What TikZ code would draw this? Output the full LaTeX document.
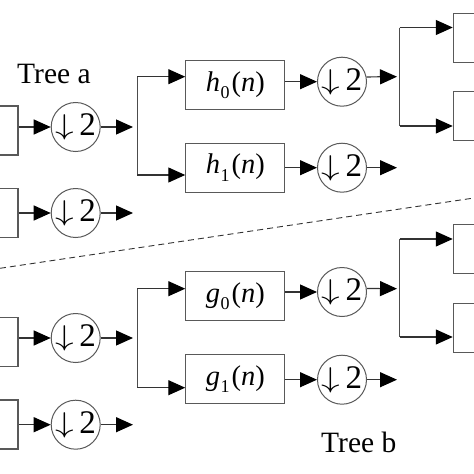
\documentclass[tikz,border=0pt]{standalone}
\usepackage{fontspec}
\setmainfont{Liberation Serif}
\usetikzlibrary{arrows.meta}
\newcommand{\flt}[2]{\textit{#1}\hspace{0.5pt}\raisebox{-0.26em}{\fontsize{18}{18}\selectfont #2}\hspace{2pt}(\textit{n})}
\newcommand{\dsym}{\raisebox{0.05em}{\scalebox{1.5}[1.15]{$\downarrow$}}\hspace{5pt}2}
\begin{document}
\begin{tikzpicture}[x=1pt,y=-1pt,
  box/.style={draw=black!65, line width=1.1pt, minimum width=99pt, minimum height=49pt, inner sep=0pt, font=\fontsize{28.5}{30}\selectfont},
  sbox/.style={draw=black!65, line width=1.1pt, minimum width=58pt, minimum height=49pt, inner sep=0pt},
  dn/.style={circle, draw=black!65, line width=1pt, minimum size=49pt, inner sep=0pt, font=\fontsize{33}{35}\selectfont},
  arr/.style={draw=black!80, line width=1.2pt, -{Triangle[length=17pt,width=15pt,color=black]}},
  ln/.style={draw=black!70, line width=1.2pt},
  lbl/.style={anchor=base west, inner sep=0pt, font=\fontsize{29.5}{31}\selectfont}]
\useasboundingbox (0,0) rectangle (474,474);
\clip (0,0) rectangle (474,474);
% left boxes (cut off)
\node[sbox] (L1) at (-11,130.5) {};
\node[sbox] (L2) at (-11,213) {};
\node[sbox] (L3) at (-11,342) {};
\node[sbox] (L4) at (-11,424.5) {};
% first-level downsamplers
\node[dn] (C1) at (75.7,127) {\dsym};
\node[dn] (C2) at (75.7,213) {\dsym};
\node[dn] (C3) at (75.7,338) {\dsym};
\node[dn] (C4) at (75.7,424.7) {\dsym};
\coordinate (E1) at (133,127);
\coordinate (E2) at (133,213);
\coordinate (E3) at (133,338);
\coordinate (E4) at (133,424.7);
\draw[arr] (L1.east |- C1.west) -- (C1.west);
\draw[arr] (L2.east |- C2.west) -- (C2.west);
\draw[arr] (L3.east |- C3.west) -- (C3.west);
\draw[arr] (L4.east |- C4.west) -- (C4.west);
\draw[arr] (C1.east) -- (E1);
\draw[arr] (C2.east) -- (E2);
\draw[arr] (C3.east) -- (E3);
\draw[arr] (C4.east) -- (E4);
% filters
\node[box] (H0) at (235.3,85) {\flt{h}{0}};
\node[box] (H1) at (235.3,167.8) {\flt{h}{1}};
\node[box] (G0) at (235.3,296.2) {\flt{g}{0}};
\node[box] (G1) at (235.3,379) {\flt{g}{1}};
% branches into filters
\coordinate (Ba1) at (137.3,76.7);
\coordinate (Ba2) at (137.3,175);
\coordinate (Bb1) at (137.3,288.7);
\coordinate (Bb2) at (137.3,387.7);
\draw[ln] (Ba1) -- (Ba2);
\draw[ln] (Bb1) -- (Bb2);
\draw[arr] (Ba1) -- (H0.west |- Ba1);
\draw[arr] (Ba2) -- (H1.west |- Ba2);
\draw[arr] (Bb1) -- (G0.west |- Bb1);
\draw[arr] (Bb2) -- (G1.west |- Bb2);
% second-level downsamplers
\node[dn] (D1) at (342,81.7) {\dsym};
\node[dn] (D2) at (342,167.7) {\dsym};
\node[dn] (D3) at (342,292) {\dsym};
\node[dn] (D4) at (342,379.7) {\dsym};
\draw[arr] (H0.east |- D1.west) -- (D1.west);
\draw[arr] (H1.east |- D2.west) -- (D2.west);
\draw[arr] (G0.east |- D3.west) -- (D3.west);
\draw[arr] (G1.east |- D4.west) -- (D4.west);
\coordinate (F1) at (397,76.7);
\coordinate (F2) at (397,167.7);
\coordinate (F3) at (397,288.7);
\coordinate (F4) at (397,379.7);
\draw[arr] (D1.11) -- (F1);
\draw[arr] (D2.east) -- (F2);
\draw[arr] (D3.8) -- (F3);
\draw[arr] (D4.east) -- (F4);
% right branches and boxes (cut off)
\node[sbox] (R1) at (482.3,38) {};
\node[sbox] (R2) at (482.3,115.8) {};
\node[sbox] (R3) at (482.3,248.7) {};
\node[sbox] (R4) at (482.3,328) {};
\coordinate (Ka1) at (399.7,27.5);
\coordinate (Ka2) at (399.7,126);
\coordinate (Kb1) at (399.7,239);
\coordinate (Kb2) at (399.7,337);
\draw[ln] (Ka1) -- (Ka2);
\draw[ln] (Kb1) -- (Kb2);
\draw[arr] (Ka1) -- (R1.west |- Ka1);
\draw[arr] (Ka2) -- (R2.west |- Ka2);
\draw[arr] (Kb1) -- (R3.west |- Kb1);
\draw[arr] (Kb2) -- (R4.west |- Kb2);
% dashed separator
\coordinate (S1) at (0,268.3);
\coordinate (S2) at (474,198);
\draw[draw=black!80, line width=0.9pt, dash pattern=on 6pt off 4pt] (S1) -- (S2);
% labels
\node[lbl] (TA) at (17,83) {Tree a};
\node[lbl] (TB) at (321,452) {Tree b};
\end{tikzpicture}
\end{document}
